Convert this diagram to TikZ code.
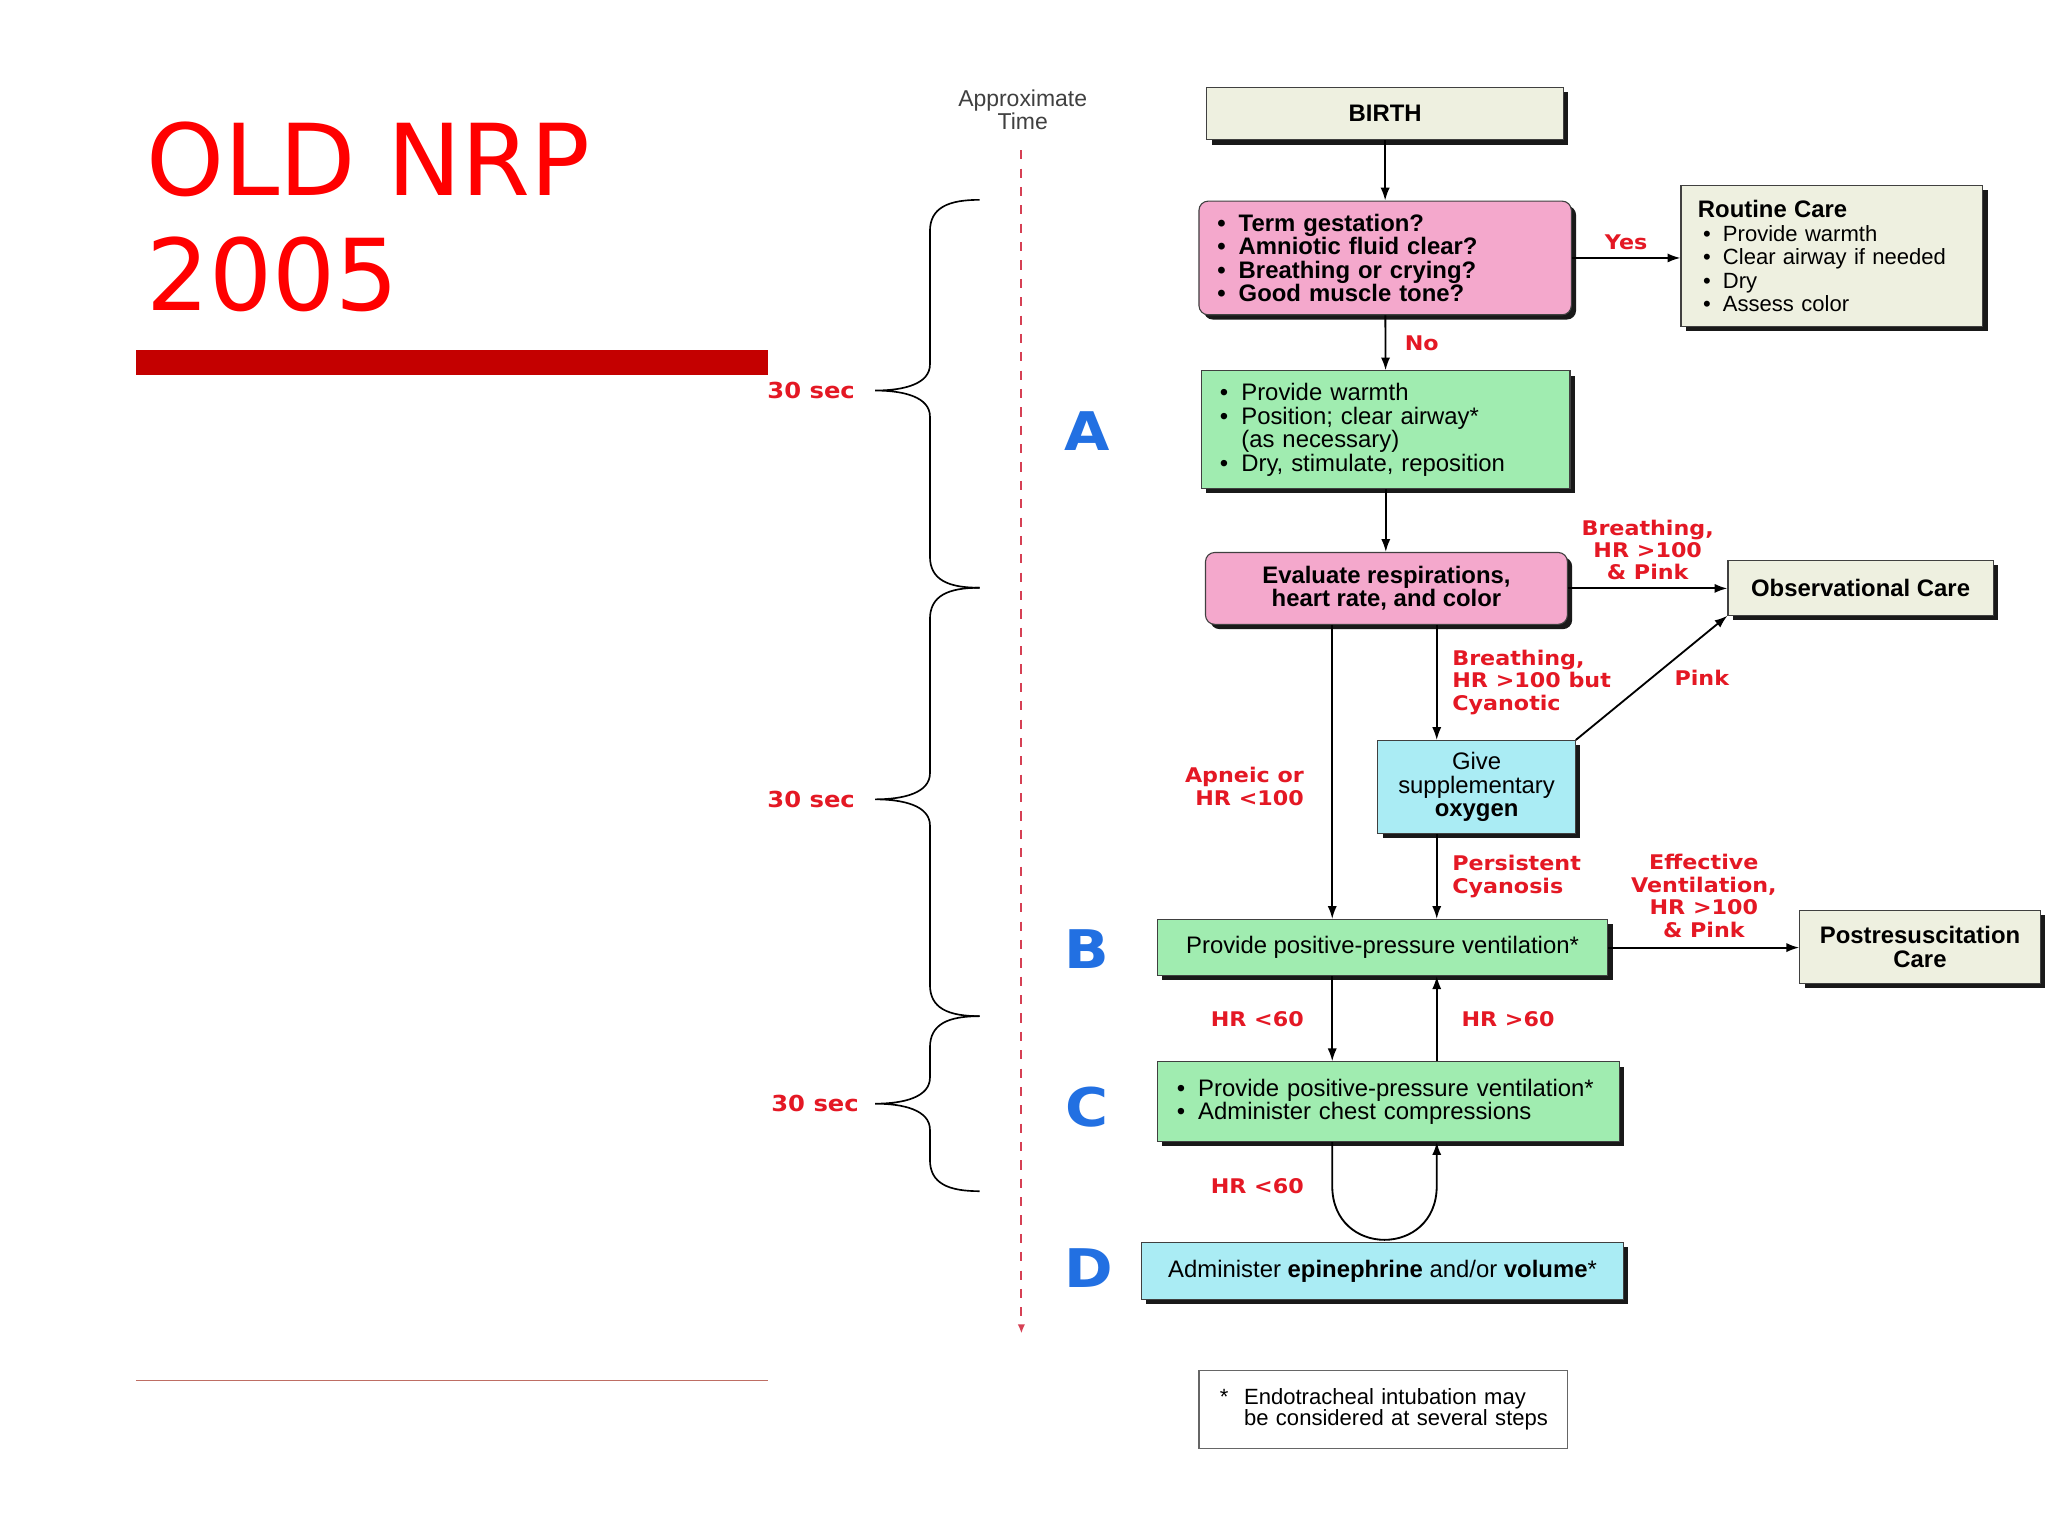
\documentclass[tikz,border=0pt]{standalone}
\usepackage{fontspec}
\setmainfont{Liberation Sans}
\newfontfamily\ttlfont{DejaVu Sans}
\newfontfamily\lblfont[FakeStretch=1.1]{DejaVu Sans}
\usepackage{xcolor}
\usetikzlibrary{arrows.meta, shadows}

\definecolor{carebg}{RGB}{238,240,224}
\definecolor{askpink}{RGB}{244,168,204}
\definecolor{actgreen}{RGB}{160,236,176}
\definecolor{aidcyan}{RGB}{170,236,244}
\definecolor{lblred}{RGB}{228,24,36}
\definecolor{ttlred}{RGB}{255,0,0}
\definecolor{barred}{RGB}{196,0,0}
\definecolor{rulered}{RGB}{190,110,100}
\definecolor{stepblue}{RGB}{34,112,226}
\definecolor{timered}{RGB}{214,64,84}

\newcommand{\bul}{\makebox[0.9em][l]{\textbullet}}
\newcommand{\bulsp}{\hspace*{0.9em}}

\begin{document}
\begin{tikzpicture}[
  x=0.025cm, y=-0.025cm,
  font=\fontsize{13}{12.8}\selectfont,
  strong/.style={font=\fontsize{13}{12.8}\selectfont\bfseries},
  box/.style={draw=black!75, line width=0.6pt, align=center,
    drop shadow={shadow xshift=2.6pt, shadow yshift=-2.6pt,
      fill=black, opacity=0.9}},
  care/.style={box, fill=carebg},
  ask/.style={box, fill=askpink, rounded corners=5pt},
  act/.style={box, fill=actgreen},
  aid/.style={box, fill=aidcyan},
  arr/.style={-{Latex[length=7pt, width=5pt]}, line width=1pt},
  lbl/.style={font=\lblfont\bfseries\fontsize{11}{12.2}\selectfont,
    text=lblred, inner sep=0, align=center},
  sec/.style={lbl, font=\lblfont\bfseries\fontsize{12}{12}\selectfont},
  letter/.style={font=\lblfont\bfseries\fontsize{29}{29}\selectfont,
    text=stepblue}
]
\path[use as bounding box, fill=white] (0,0) rectangle (1568,1176);

% slide title
\node[anchor=base west, inner sep=0, text=ttlred,
  font=\ttlfont\fontsize{54}{60}\selectfont] (title) at (112,150) {OLD NRP};
\node[anchor=base west, inner sep=0, text=ttlred,
  font=\ttlfont\fontsize{54}{60}\selectfont] (year) at (112,238) {2005};
\fill[barred] (104,268) rectangle (588,287);
\draw[rulered, line width=0.8pt] (104,1057) -- (588,1057);

% time axis
\node[font=\fontsize{12.5}{12.8}\selectfont, text=black!75, align=center]
  (apptime) at (783,84) {Approximate\\Time};
\coordinate (tstart) at (782,115);
\coordinate (tend) at (782,1021);
\draw[timered, line width=1.2pt, dash pattern=on 5pt off 5pt,
  -{Latex[length=5pt, width=4pt]}] (tstart) -- (tend);

\foreach \ya/\ym/\yb in {153/299/450, 450/612/778, 778/845/912}
  \draw[line width=0.9pt] (750,\ya) .. controls (726,\ya) and (712,\ya+6) .. (712,\ya+24)
    -- (712,\ym-20) .. controls (712,\ym-5) and (692,\ym) .. (670,\ym)
    .. controls (692,\ym) and (712,\ym+5) .. (712,\ym+20)
    -- (712,\yb-24) .. controls (712,\yb-6) and (726,\yb) .. (750,\yb);

\node[sec] (seca) at (621,299) {30 sec};
\node[sec] (secb) at (621,612) {30 sec};
\node[sec] (secc) at (624,845) {30 sec};

\node[letter] (lettera) at (832,330) {A};
\node[letter] (letterb) at (832,727) {B};
\node[letter] (letterc) at (832,848) {C};
\node[letter] (letterd) at (834,971) {D};

% flow boxes
\node[care, strong, minimum width=6.825cm, minimum height=1cm]
  (birth) at (1060.5,87) {BIRTH};
\node[ask, strong, align=left, text width=6.425cm, inner xsep=0.35cm,
  minimum height=2.175cm] (quest) at (1060.5,197.5)
  {\bul Term gestation?\\\bul Amniotic fluid clear?\\
   \bul Breathing or crying?\\\bul Good muscle tone?};
\node[care, align=left, text width=5.125cm, inner xsep=0.325cm,
  minimum height=2.7cm, font=\fontsize{12}{12.8}\selectfont]
  (routine) at (1402.5,196)
  {{\fontsize{13}{12.8}\selectfont\bfseries Routine Care}\\
   \hspace*{0.1cm}\bul Provide warmth\\
   \hspace*{0.1cm}\bul Clear airway if needed\\\hspace*{0.1cm}\bul Dry\\
   \hspace*{0.1cm}\bul Assess color};
\node[act, align=left, text width=6.35cm, inner xsep=0.35cm,
  minimum height=2.25cm] (stepa) at (1061,329)
  {\bul Provide warmth\\\bul Position; clear airway*\\
   \bulsp(as necessary)\\\bul Dry, stimulate, reposition};
\node[ask, strong, minimum width=6.925cm, minimum height=1.375cm]
  (evalr) at (1061.5,450.5) {Evaluate respirations,\\heart rate, and color};
\node[care, strong, minimum width=5.075cm, minimum height=1.05cm]
  (obscare) at (1424.5,450) {Observational Care};
\node[aid, minimum width=3.775cm, minimum height=1.775cm]
  (oxygen) at (1130.5,602.5) {Give\\supplementary\\\textbf{oxygen}};
\node[act, minimum width=8.625cm, minimum height=1.075cm]
  (stepb) at (1058.5,725.5) {Provide positive-pressure ventilation*};
\node[care, strong, minimum width=4.6cm, minimum height=1.4cm]
  (postcare) at (1470,725) {Postresuscitation\\Care};
\node[act, align=left, text width=8.1cm, inner xsep=0.375cm,
  minimum height=1.525cm] (stepc) at (1063,843.5)
  {\bul Provide positive-pressure ventilation*\\
   \bul Administer chest compressions};
\node[aid, minimum width=9.225cm, minimum height=1.1cm] (stepd) at (1058.5,973)
  {Administer \textbf{epinephrine} and/or \textbf{volume}*};
\node[draw=black!60, line width=0.6pt, fill=white, align=left,
  text width=6.55cm, inner xsep=0.25cm, minimum height=1.5cm,
  font=\fontsize{12}{11.5}\selectfont] (note) at (1059,1079)
  {\hspace*{0.15cm}\makebox[1.1em][l]{*}Endotracheal intubation may\\
   \hspace*{0.15cm}\hspace*{1.1em}be considered at several steps};

% connectors
\coordinate (colL) at (1020,0);
\coordinate (colR) at (1100,0);
\draw[arr] (birth) -- (quest);
\draw[arr] (quest.east) -- (quest.east -| routine.west)
  node[lbl, midway, above=4pt] {Yes};
\draw[arr] (quest) -- (stepa) node[lbl, midway, right=10pt] {No};
\draw[arr] (stepa) -- (stepa.south |- evalr.north);
\draw[arr] (evalr.east) -- (evalr.east -| obscare.west)
  node[lbl, midway, above=4pt] {Breathing,\\HR >100\\\& Pink};
\draw[arr] (evalr.south -| colL) -- (stepb.north -| colL)
  node[lbl, pos=0.55, left=15pt, align=right] {Apneic or\\HR <100};
\draw[arr] (evalr.south -| colR) -- (oxygen.north -| colR)
  node[lbl, midway, right=8pt, align=left] {Breathing,\\HR >100 but\\Cyanotic};
\draw[arr] (oxygen.north east) -- (obscare.south west)
  node[lbl, midway, right=12pt] {Pink};
\draw[arr] (oxygen.south -| colR) -- (stepb.north -| colR)
  node[lbl, midway, right=8pt, align=left] {Persistent\\Cyanosis};
\draw[arr] (stepb.east) -- (stepb.east -| postcare.west)
  node[lbl, midway, above=5pt] {Effective\\Ventilation,\\HR >100\\\& Pink};
\draw[arr] (stepb.south -| colL) -- (stepc.north -| colL)
  node[lbl, midway, left=15pt] {HR <60};
\draw[arr] (stepc.north -| colR) -- (stepb.south -| colR)
  node[lbl, midway, right=13pt] {HR >60};
\draw[arr] (stepc.south -| colL) -- (1020,908)
  node[lbl, at end, left=15pt] {HR <60}
  .. controls (1020,963) and (1100,963) .. (1100,908) -- (stepc.south -| colR);
\end{tikzpicture}
\end{document}
